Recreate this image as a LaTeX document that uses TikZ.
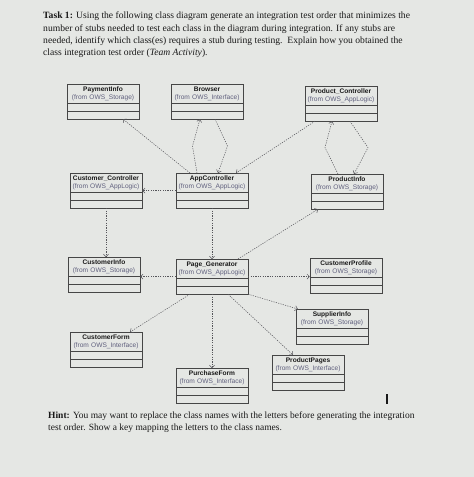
\documentclass[tikz,border=0pt]{standalone}
\usepackage{fontspec}
\setmainfont{Liberation Serif}
\setsansfont{Liberation Sans}
\usepackage{tikz}
\usetikzlibrary{
  arrows.meta,
  positioning,
  shapes.multipart,
  calc
}
\usepackage{xcolor}
\definecolor{paperGray}{RGB}{229,231,228}
\definecolor{boxLine}{RGB}{70,70,70}
\definecolor{pkgBlue}{RGB}{95,95,125}
\definecolor{depGray}{RGB}{85,85,90}
\definecolor{inkBlack}{RGB}{25,25,25}
\newcommand{\classText}[2]{%
  \rule{0pt}{6pt}\textbf{#1}\\
  \mbox{\textcolor{pkgBlue}{(from #2)}}\rule[-2pt]{0pt}{2pt}}
\tikzset{
  every class/.style={
    rectangle split,
    rectangle split parts=3,
    rectangle split empty part height=0.6pt,
    draw=boxLine,
    fill=paperGray,
    text=inkBlack,
    text width=68pt,
    align=center,
    inner xsep=2pt,
    inner ysep=1.4pt,
    anchor=north,
    font=\sffamily\fontsize{6.6}{8}\selectfont
  }
}

\begin{document}
\begin{tikzpicture}[
      x=1pt, y=-1pt,
      >={Straight Barb[length=2.5pt,width=5pt]},
      dep/.style={
        ->,
        draw=depGray,
        line width=0.5pt,
        dash pattern=on 1.2pt off 1.2pt
      }
      ]

      % paper
      \useasboundingbox (0,0) rectangle (474,477);
      \fill[paperGray] (0,0) rectangle (474,477);

      % task text
      \node[anchor=north west, inner sep=0pt, align=left, text=inkBlack,
        font=\fontsize{9.6}{12.2}\selectfont] (task) at (43,12)
        {\textbf{Task 1:} Using the following class diagram generate an integration test order that minimizes the\\
         number of stubs needed to test each class in the diagram during integration. If any stubs are\\
         needed, identify which class(es) requires a stub during testing.\ \ Explain how you obtained the\\
         class integration test order (\textit{Team Activity}).};

      % classes
      \node[every class] (paymentInfo) at (103,84) {\classText{PaymentInfo}{OWS\_Storage}};
      \node[every class] (browser) at (207,84) {\classText{Browser}{OWS\_Interface}};
      \node[every class] (productController) at (341,86) {\classText{Product\_Controller}{OWS\_AppLogic}};

      \node[every class] (customerController) at (106,173) {\classText{Customer\_Controller}{OWS\_AppLogic}};
      \node[every class] (appController) at (212,173) {\classText{AppController}{OWS\_AppLogic}};
      \node[every class] (productInfo) at (347,174) {\classText{ProductInfo}{OWS\_Storage}};

      \node[every class] (customerInfo) at (104,257) {\classText{CustomerInfo}{OWS\_Storage}};
      \node[every class] (pageGenerator) at (212,259) {\classText{Page\_Generator}{OWS\_AppLogic}};
      \node[every class] (customerProfile) at (346,258) {\classText{CustomerProfile}{OWS\_Storage}};

      \node[every class] (supplierInfo) at (332,309) {\classText{SupplierInfo}{OWS\_Storage}};
      \node[every class] (customerForm) at (106,332) {\classText{CustomerForm}{OWS\_Interface}};
      \node[every class] (productPages) at (308,355) {\classText{ProductPages}{OWS\_Interface}};
      \node[every class] (purchaseForm) at (212,368) {\classText{PurchaseForm}{OWS\_Interface}};

      % dependencies
      \draw[dep] ([xshift=-22pt]appController.north) -- ([xshift=20pt]paymentInfo.south);
      \draw[dep] ([xshift=-15pt]appController.north)
        -- ([xshift=-17pt]$(browser.south)!0.5!(appController.north)$)
        -- ([xshift=-7pt]browser.south);
      \draw[dep] ([xshift=8pt]browser.south)
        -- ([xshift=18pt]$(browser.south)!0.5!(appController.north)$)
        -- ([xshift=6pt]appController.north);
      \draw[dep] ([xshift=-26pt]productController.south) -- ([xshift=24pt]appController.north);
      \draw[dep] ([xshift=-9pt]productInfo.north)
        -- ([xshift=-19pt]$(productController.south)!0.5!(productInfo.north)$)
        -- ([xshift=-9pt]productController.south);
      \draw[dep] ([xshift=9pt]productController.south)
        -- ([xshift=24pt]$(productController.south)!0.5!(productInfo.north)$)
        -- ([xshift=7pt]productInfo.north);
      \draw[dep] (appController.west) -- (appController.west -| customerController.east);
      \draw[dep] (customerController.south) -- (customerController.south |- customerInfo.north);
      \draw[dep] (appController.south) -- (pageGenerator.north);
      \draw[dep] ([xshift=26pt]pageGenerator.north) -- ([xshift=-29pt]productInfo.south);
      \draw[dep] (pageGenerator.west) -- (pageGenerator.west -| customerInfo.east);
      \draw[dep] (pageGenerator.east) -- (pageGenerator.east -| customerProfile.west);
      \draw[dep] ([xshift=-22pt]pageGenerator.south) -- ([xshift=24pt]customerForm.north);
      \draw[dep] (pageGenerator.south) -- (purchaseForm.north);
      \draw[dep] ([xshift=16pt]pageGenerator.south) -- ([xshift=-15pt]productPages.north);
      \draw[dep] (pageGenerator.south east) -- ([xshift=2pt]supplierInfo.north west);

      % cursor mark
      \draw[inkBlack, line width=1.1pt] (387,394) -- (387,404);

      % hint text
      \node[anchor=north west, inner sep=0pt, align=left, text=inkBlack,
        font=\fontsize{9.5}{12}\selectfont] (hint) at (48,412)
        {\textbf{Hint:} You may want to replace the class names with the letters before generating the integration\\
         test order. Show a key mapping the letters to the class names.};
    \end{tikzpicture}
\end{document}
